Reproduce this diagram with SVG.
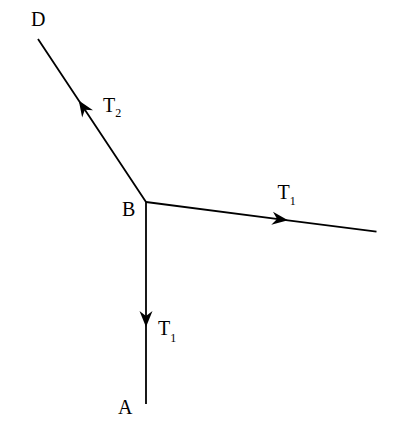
<svg xmlns="http://www.w3.org/2000/svg" width="400" height="424" viewBox="0 0 400 424">
<style>
.ln{fill:none;stroke:#000;stroke-width:1.8;marker-mid:url(#ah)}
.lb{font-family:"Liberation Serif","Times New Roman",serif;font-size:20px;fill:#000}
.sb{font-size:12px}
</style>
<defs>
<marker id="ah" markerUnits="userSpaceOnUse" viewBox="-18 -8 19 16" refX="0" refY="0" markerWidth="19" markerHeight="16" orient="auto">
<path d="M0,0 L-16,-6.5 L-11,0 L-16,6.5 Z" fill="#000"/>
</marker>
</defs>
<rect width="400" height="424" fill="#fff"/>
<g id="connectors">
<path id="BD" class="ln" d="M146,202 L78.75,100.5 L38,39"/>
<path id="BC" class="ln" d="M146,202 L288,220.3 L376.5,231.7"/>
<path id="BA" class="ln" d="M146,202 L146,327 L146,404"/>
</g>
<g id="D"><text class="lb" x="31" y="26">D</text></g>
<g id="B"><text class="lb" x="122" y="215.5">B</text></g>
<g id="A"><text class="lb" x="118" y="414">A</text></g>
<g id="label-T2"><text class="lb" x="103" y="111.5">T<tspan class="sb" dy="5">2</tspan></text></g>
<g id="label-T1-right"><text class="lb" x="277.5" y="199">T<tspan class="sb" dy="6">1</tspan></text></g>
<g id="label-T1-down"><text class="lb" x="158" y="335">T<tspan class="sb" dy="6.5">1</tspan></text></g>
</svg>
